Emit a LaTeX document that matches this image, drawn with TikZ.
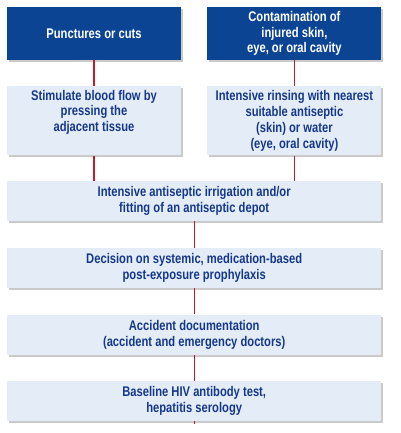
\documentclass[tikz,border=0pt]{standalone}
\usepackage{fontspec}
\setmainfont{Liberation Sans}[FakeStretch=0.8]
\usepackage{tikz}
\usetikzlibrary{positioning, calc, shadows}
\definecolor{darkblue}{RGB}{12,68,148}
\definecolor{textblue}{RGB}{22,56,138}
\definecolor{paleblue}{RGB}{228,236,247}
\definecolor{linered}{RGB}{205,22,40}
\tikzset{
  topbox/.style={
    rectangle,
    fill=darkblue,
    text=white,
    font=\bfseries\fontsize{14}{15.7}\selectfont,
    align=center,
    minimum width=174pt,
    minimum height=53pt,
    inner sep=0pt,
    drop shadow={shadow xshift=2pt, shadow yshift=-2pt, opacity=0.35, fill=black!60}
  },
  stepbox/.style={
    rectangle,
    fill=paleblue,
    text=textblue,
    font=\bfseries\fontsize{14}{15.7}\selectfont,
    align=center,
    minimum width=174pt,
    inner sep=0pt,
    drop shadow={shadow xshift=2pt, shadow yshift=-2pt, opacity=0.35, fill=black!60}
  },
  widebox/.style={
    stepbox,
    minimum width=374pt,
    minimum height=40pt
  },
  link/.style={
    draw=linered,
    line width=1.2pt
  }
}

\begin{document}
\begin{tikzpicture}[node distance=26pt]
  \useasboundingbox (0,0) rectangle (400pt,-433pt);

  \node[topbox] (punct) at (94pt,-33.5pt) {Punctures or cuts};
  \node[topbox, right=of punct] (contam) {Contamination of\\injured skin,\\eye, or oral cavity};

  \node[stepbox, minimum height=69pt, below=of punct] (stim) {Stimulate blood flow by\\pressing the\\adjacent tissue\\\strut};
  \node[stepbox, minimum height=69pt, below=of contam] (rinse) {Intensive rinsing with nearest\\suitable antiseptic\\(skin) or water\\(eye, oral cavity)};

  \coordinate (mid) at ($(stim.south)!0.5!(rinse.south)$);
  \node[widebox, below=25pt of mid] (irrig) {Intensive antiseptic irrigation and/or\\fitting of an antiseptic depot};
  \node[widebox, below=27pt of irrig] (decis) {Decision on systemic, medication-based\\post-exposure prophylaxis};
  \node[widebox, below=of decis] (docu) {Accident documentation\\(accident and emergency doctors)};
  \node[widebox, below=of docu] (base) {Baseline HIV antibody test,\\hepatitis serology};
  \coordinate[below=3pt of base] (stub);

  % red links
  \draw[link] (punct) -- (stim);
  \draw[link] (contam) -- (rinse);
  \draw[link] (stim) -- (stim |- irrig.north);
  \draw[link] (rinse) -- (rinse |- irrig.north);
  \draw[link] (irrig) -- (decis);
  \draw[link] (decis) -- (docu);
  \draw[link] (docu) -- (base);
  \draw[link] (base) -- (stub);
\end{tikzpicture}
\end{document}
